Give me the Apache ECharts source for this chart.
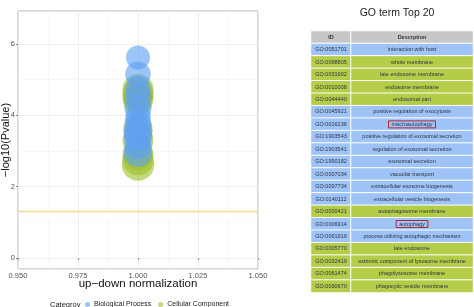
<!DOCTYPE html>
<html>
<head>
<meta charset="utf-8">
<script src="https://cdn.jsdelivr.net/npm/echarts@6/dist/echarts.min.js"></script>
<style>html,body{margin:0;padding:0;background:#fff}#c{width:474px;height:307px}</style>
</head>
<body>
<div id="c"></div>
<script>
// ---- data ----
const goIds = ['GO:0051701','GO:0098805','GO:0031902','GO:0010008','GO:0044440','GO:0045921','GO:0016236','GO:1903543','GO:1903541','GO:1990182','GO:0007034','GO:0097734','GO:0140112','GO:0000421','GO:0006914','GO:0061919','GO:0005770','GO:0032419','GO:0061474','GO:0030670'];
const descriptions = ['interaction with host','whole membrane','late endosome membrane','endosome membrane','endosomal part','positive regulation of exocytosis','macroautophagy','positive regulation of exosomal secretion','regulation of exosomal secretion','exosomal secretion','vacuolar transport','extracellular exosome biogenesis','extracellular vesicle biogenesis','autophagosome membrane','autophagy','process utilizing autophagic mechanism','late endosome','extrinsic component of lysosome membrane','phagolysosome membrane','phagocytic vesicle membrane'];
const categories = ['BP','CC','CC','CC','CC','BP','BP','BP','BP','BP','BP','BP','BP','CC','BP','BP','CC','CC','CC','CC'];
const upDown = [1,1,1,1,1,1,1,1,1,1,1,1,1,1,1,1,1,1,1,1];
const negLogP = [5.62,4.72,4.6,4.5,4.4,5.15,4.75,4.5,4.2,3.95,3.75,3.55,3.4,3.6,3.15,2.95,3.3,2.9,2.75,2.62];
const geneCount = [16,20,20,20,19,17,17,18,18,17,18,19,19,19,18,19,20,20,20,21];
const highlighted = ['macroautophagy','autophagy'];
const headers = ['ID','Descrption'];
const pCutoff = 1.301;

// ---- build ----
function pts(cat){
  const out=[];
  for(let i=0;i<goIds.length;i++) if(categories[i]===cat) out.push([upDown[i],negLogP[i],geneCount[i],descriptions[i]]);
  return out;
}
const rowCats = ['header'].concat(goIds);
const catCode = c => c==='BP'?1:2;
const idCells = [[0,0,0]].concat(goIds.map((g,i)=>[0,i+1,catCode(categories[i])]));
const descCells = [[0,0,0]].concat(descriptions.map((d,i)=>[0,i+1,catCode(categories[i])]));

const blue = '#5e9ff3', green = '#9ec22c';
const chart = echarts.init(document.getElementById('c'), null, {renderer:'canvas'});
const tableLabel = {
  show:true, fontSize:5.5, color:'#2b3445', fontFamily:'Liberation Sans',
  rich:{ box:{ fontSize:5.5, color:'#2b3445', borderColor:'#b5283a', borderWidth:1, padding:[1,3,0,3] },
         head:{ fontSize:5.5, fontWeight:'bold', color:'#333' } }
};
chart.setOption({
  animation:false,
  textStyle:{fontFamily:'Liberation Sans'},
  title:[
    {text:'GO term Top 20', left:392, top:3, textAlign:'center', textStyle:{fontSize:10.5, fontWeight:'normal', color:'#222'}},
    {text:'Categroy', left:45, top:296, textStyle:{fontSize:7.5, fontWeight:'normal', color:'#222'}}
  ],
  legend:{left:80, top:296, icon:'circle', itemWidth:5, itemHeight:5, itemGap:7,
    textStyle:{fontSize:7, color:'#222', padding:[0,0,0,-1]},
    data:['Biological Process','Cellular Component']},
  visualMap:{type:'piecewise', show:false, dimension:2, seriesIndex:[2,3],
    pieces:[{value:0,color:'#c7c7c7'},{value:1,color:'#9fc3f6'},{value:2,color:'#b4cd49'}]},
  grid:[
    {left:18, right:216, top:11, bottom:38, show:true, borderColor:'#b0b0b0', borderWidth:1, backgroundColor:'#fff', outerBoundsMode:'none', containLabel:false},
    {left:311, width:40, top:31, height:261.5, outerBoundsMode:'none'},
    {left:351, width:122, top:31, height:261.5, outerBoundsMode:'none'}
  ],
  xAxis:[
    {type:'value', gridIndex:0, min:0.95, max:1.05, interval:0.025,
     name:'up\u2212down normalization', nameLocation:'middle', nameGap:9, nameMoveOverlap:false,
     nameTextStyle:{fontSize:11.5, color:'#111', verticalAlign:'top'},
     axisLine:{show:false}, axisTick:{show:true, length:2, lineStyle:{color:'#888'}},
     axisLabel:{fontSize:7.5, color:'#555', margin:3, formatter:v=>v.toFixed(3)},
     splitLine:{show:true, lineStyle:{color:'#ebebeb', width:0.8}},
     minorTick:{show:false, splitNumber:2},
     minorSplitLine:{show:true, lineStyle:{color:'#f4f4f4', width:0.6}}},
    {type:'category', gridIndex:1, data:['ID'], show:false},
    {type:'category', gridIndex:2, data:['Descrption'], show:false}
  ],
  yAxis:[
    {type:'value', gridIndex:0, min:-0.31, max:6.92, splitNumber:4,
     name:'\u2212log10(Pvalue)', nameLocation:'middle', nameGap:7, nameMoveOverlap:false,
     nameTextStyle:{fontSize:11, color:'#111'},
     axisLine:{show:false}, axisTick:{show:true, length:2, lineStyle:{color:'#888'}},
     axisLabel:{fontSize:7.5, color:'#555', margin:3, showMinLabel:false, showMaxLabel:false},
     splitLine:{show:true, lineStyle:{color:'#ebebeb', width:0.8}},
     minorTick:{show:false, splitNumber:2},
     minorSplitLine:{show:true, lineStyle:{color:'#f4f4f4', width:0.6}}},
    {type:'category', gridIndex:1, data:rowCats, inverse:true, show:false},
    {type:'category', gridIndex:2, data:rowCats, inverse:true, show:false}
  ],
  series:[
    {name:'Cellular Component', type:'scatter', xAxisIndex:0, yAxisIndex:0, data:pts('CC'),
     symbolSize:d=>d[2]*1.55, itemStyle:{color:green, opacity:0.62},
     markLine:{silent:true, symbol:'none', label:{show:false}, lineStyle:{color:'#f2d98c', width:1.3, type:'solid'},
       data:[{yAxis:pCutoff}]}},
    {name:'Biological Process', type:'scatter', xAxisIndex:0, yAxisIndex:0, data:pts('BP'),
     symbolSize:d=>d[2]*1.5, itemStyle:{color:blue, opacity:0.62}},
    {type:'heatmap', xAxisIndex:1, yAxisIndex:1, data:idCells,
     itemStyle:{borderColor:'#fff', borderWidth:1},
     label:Object.assign({}, tableLabel, {formatter:p=>p.data[1]===0?'{head|'+headers[0]+'}':goIds[p.data[1]-1]})},
    {type:'heatmap', xAxisIndex:2, yAxisIndex:2, data:descCells,
     itemStyle:{borderColor:'#fff', borderWidth:1},
     label:Object.assign({}, tableLabel, {formatter:p=>{
       if(p.data[1]===0) return '{head|'+headers[1]+'}';
       const d=descriptions[p.data[1]-1];
       return highlighted.indexOf(d)>=0 ? '{box|'+d+'}' : d; }})}
  ]
});
</script>
</body>
</html>
